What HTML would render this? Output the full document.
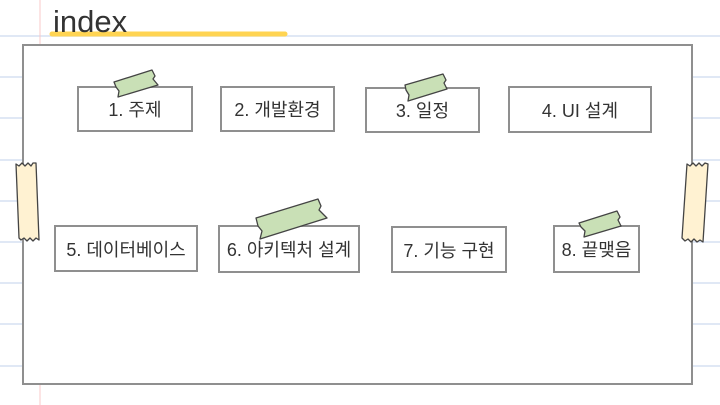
<!DOCTYPE html>
<html><head><meta charset="utf-8"><style>
body{margin:0;width:720px;height:405px;overflow:hidden;background:#fff;font-family:"Liberation Sans","Noto Sans CJK KR",sans-serif;}
.b{position:absolute;border:2px solid #8f8f8f;box-sizing:border-box;display:flex;align-items:center;justify-content:center;font-size:18px;color:#333;background:#fff;}
</style></head><body>
<svg width="720" height="405" style="position:absolute;left:0;top:0">
<g stroke="#d6e0f2" stroke-width="1.5">
<line x1="0" y1="36" x2="720" y2="36"/><line x1="0" y1="77" x2="720" y2="77"/><line x1="0" y1="118" x2="720" y2="118"/><line x1="0" y1="160" x2="720" y2="160"/><line x1="0" y1="201" x2="720" y2="201"/><line x1="0" y1="242" x2="720" y2="242"/><line x1="0" y1="283" x2="720" y2="283"/><line x1="0" y1="324" x2="720" y2="324"/><line x1="0" y1="366" x2="720" y2="366"/>
</g>
<line x1="40" y1="0" x2="40" y2="405" stroke="#f8c8c8" stroke-width="1"/>
<rect x="23" y="45" width="669" height="339" fill="#fff" stroke="#8f8f8f" stroke-width="2"/>
<line x1="52" y1="34" x2="285" y2="34" stroke="#ffd452" stroke-width="5" stroke-linecap="round"/>
<text x="53" y="32" font-family="Liberation Sans, sans-serif" font-size="31" fill="#333">index</text>
</svg>
<div class="b" style="left:77px;top:86px;width:116px;height:46px">1. 주제</div>
<div class="b" style="left:220px;top:86px;width:115px;height:46px">2. 개발환경</div>
<div class="b" style="left:365px;top:87px;width:115px;height:46px">3. 일정</div>
<div class="b" style="left:508px;top:86px;width:144px;height:47px">4. UI 설계</div>
<div class="b" style="left:54px;top:225px;width:144px;height:47px">5. 데이터베이스</div>
<div class="b" style="left:218px;top:225px;width:142px;height:48px">6. 아키텍처 설계</div>
<div class="b" style="left:391px;top:226px;width:116px;height:47px">7. 기능 구현</div>
<div class="b" style="left:553px;top:225px;width:87px;height:48px">8. 끝맺음</div>
<svg width="720" height="405" style="position:absolute;left:0;top:0">
<g fill="#c9e0b6" stroke="#444" stroke-width="1.3" stroke-linejoin="round">
<polygon points="114,82 152,70 155,76 153,79 158,85 118,97 119,91 116,87"/>
<polygon points="256,218 318,199 321,206 319,210 327,218 260,239 262,231 258,226"/>
<polygon points="405,85 443,74 446,80 444,83 447,89 408,101 409,95 406,90"/>
<polygon points="579,223 617,211 620,217 618,220 621,226 584,237 585,231 581,227"/>
</g>
<g fill="#fff2d2" stroke="#444" stroke-width="1.3" stroke-linejoin="round">
<polygon points="16,164 19,166 22,163 25,166 28,163 31,166 33,163 36,163 39,240 36,238 33,241 30,238 27,241 24,238 21,240 19,238"/>
<polygon points="687,164 690,166 693,163 696,166 699,163 702,166 705,163 708,164 703,242 700,240 697,242 694,239 691,242 688,239 685,241 682,238"/>
</g>
</svg>
</body></html>
